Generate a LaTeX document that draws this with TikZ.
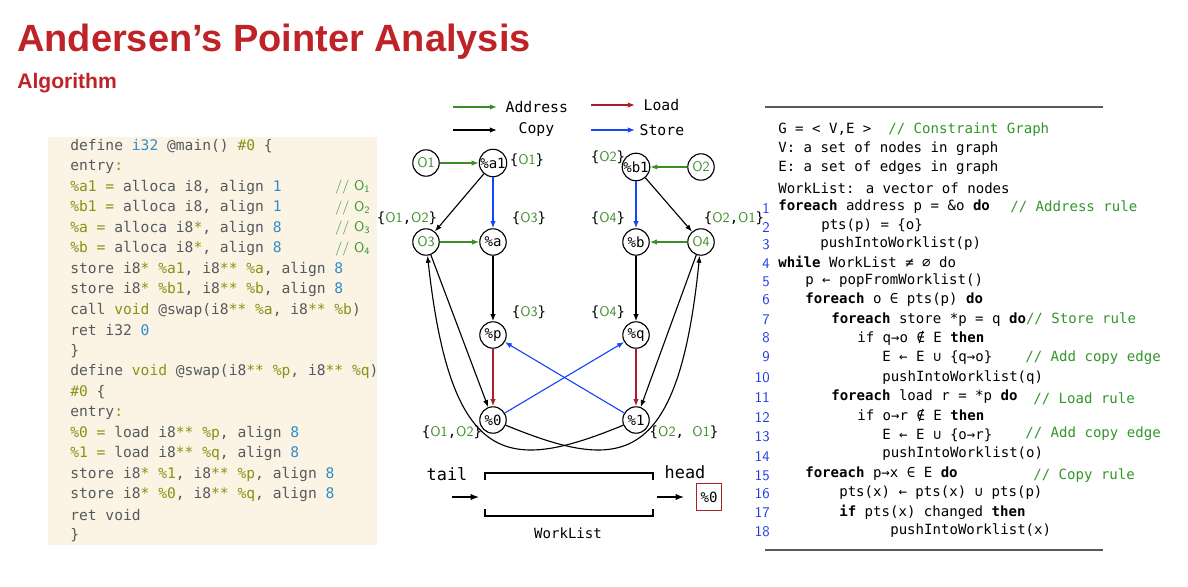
\documentclass[tikz,border=0pt]{standalone}
\usepackage{fontspec}
\setmainfont{Liberation Sans}
\newfontfamily\codefont{DejaVu Sans Mono}
\usetikzlibrary{arrows.meta}
\definecolor{titlered}{RGB}{190,35,40}
\definecolor{addrgreen}{RGB}{60,140,40}
\definecolor{loadred}{RGB}{170,30,40}
\definecolor{storeblue}{RGB}{20,70,250}
\definecolor{codebg}{RGB}{251,243,228}
\definecolor{codegrey}{RGB}{85,90,95}
\definecolor{codeolive}{RGB}{140,145,20}
\definecolor{codeblue}{RGB}{50,140,200}
\definecolor{linenum}{RGB}{30,60,230}
\definecolor{cmtgreen}{RGB}{50,150,40}
\newcommand{\cv}[1]{\textcolor{codeolive}{#1}}
\newcommand{\cn}[1]{\textcolor{codeblue}{#1}}
\newcommand{\oo}[1]{\textcolor{addrgreen}{\sffamily O#1}}
\newcommand{\cmt}[1]{\textcolor{cmtgreen}{#1}}
\tikzset{
  var/.style={circle, draw, thick, minimum size=0.66cm, inner sep=0pt, font=\codefont\fontsize{10}{11}\selectfont},
  pset/.style={inner sep=1pt, font=\codefont\fontsize{10}{11}\selectfont},
  address/.style={draw=addrgreen, thick, -{Latex[length=5pt]}},
  copyedge/.style={draw=black, thick, -{Latex[length=5pt]}},
  load/.style={draw=loadred, thick, -{Latex[length=5pt]}},
  store/.style={draw=storeblue, thick, -{Latex[length=5pt]}},
  code/.style={anchor=west, inner sep=0pt, text=codegrey, font=\codefont\fontsize{10.4}{12}\selectfont},
  algo/.style={anchor=west, inner sep=0pt, font=\codefont\fontsize{10}{12}\selectfont},
  lnum/.style={anchor=east, inner sep=0pt, text=linenum, font=\sffamily\fontsize{10.5}{12}\selectfont}
}
\begin{document}
\begin{tikzpicture}[x=0.025cm, y=-0.025cm]
\useasboundingbox (0,0) rectangle (1188,586);

\node[anchor=west, inner sep=0pt, text=titlered, font=\bfseries\fontsize{27}{30}\selectfont] (title) at (17,42) {Andersen’s Pointer Analysis};
\node[anchor=west, inner sep=0pt, text=titlered, font=\bfseries\fontsize{15}{18}\selectfont] (subtitle) at (17,83) {Algorithm};

\fill[codebg] (48,137) rectangle (377,545);
\node[code] (c1) at (70,146) {define \cn{i32} @main() \cv{\#0} \{};
\node[code] (c2) at (70,166.5) {entry\cv{:}};
\node[code] (c3) at (70,187) {\cv{\%a1 =} alloca i8, align \cn{1}};
\node[code] (c4) at (70,207.5) {\cv{\%b1 =} alloca i8, align \cn{1}};
\node[code] (c5) at (70,228) {\cv{\%a =} alloca i8\cv{*}, align \cn{8}};
\node[code] (c6) at (70,248.5) {\cv{\%b =} alloca i8\cv{*}, align \cn{8}};
\node[code] (c7) at (70,269) {store i8\cv{*} \cv{\%a1}, i8\cv{**} \cv{\%a}, align \cn{8}};
\node[code] (c8) at (70,289.5) {store i8\cv{*} \cv{\%b1}, i8\cv{**} \cv{\%b}, align \cn{8}};
\node[code] (c9) at (70,310) {call \cv{void} @swap(i8\cv{**} \cv{\%a}, i8\cv{**} \cv{\%b})};
\node[code] (c10) at (70,330.5) {ret i32 \cn{0}};
\node[code] (c11) at (70,351) {\}};
\node[code] (c12) at (70,371.5) {define \cv{void} @swap(i8\cv{**} \cv{\%p}, i8\cv{**} \cv{\%q})};
\node[code] (c13) at (70,392) {\cv{\#0} \{};
\node[code] (c14) at (70,412.5) {entry\cv{:}};
\node[code] (c15) at (70,433) {\cv{\%0 =} load i8\cv{**} \cv{\%p}, align \cn{8}};
\node[code] (c16) at (70,453.5) {\cv{\%1 =} load i8\cv{**} \cv{\%q}, align \cn{8}};
\node[code] (c17) at (70,474) {store i8\cv{*} \cv{\%1}, i8\cv{**} \cv{\%p}, align \cn{8}};
\node[code] (c18) at (70,494.5) {store i8\cv{*} \cv{\%0}, i8\cv{**} \cv{\%q}, align \cn{8}};
\node[code] (c19) at (70,515) {ret void};
\node[code] (c20) at (70,535.5) {\}};
\node[code, text=cmtgreen, font=\sffamily\fontsize{10}{12}\selectfont] (m1) at (335,187) {// O\textsubscript{1}};
\node[code, text=cmtgreen, font=\sffamily\fontsize{10}{12}\selectfont] (m2) at (335,207.5) {// O\textsubscript{2}};
\node[code, text=cmtgreen, font=\sffamily\fontsize{10}{12}\selectfont] (m3) at (335,228) {// O\textsubscript{3}};
\node[code, text=cmtgreen, font=\sffamily\fontsize{10}{12}\selectfont] (m4) at (335,248.5) {// O\textsubscript{4}};

\coordinate (la1) at (453,107);
\coordinate (la2) at (497,107);
\coordinate (lc1) at (453,130);
\coordinate (lc2) at (497,130);
\coordinate (ll1) at (591,105);
\coordinate (ll2) at (635,105);
\coordinate (ls1) at (591,130);
\coordinate (ls2) at (635,130);
\draw[address] (la1) -- (la2);
\draw[copyedge] (lc1) -- (lc2);
\draw[load] (ll1) -- (ll2);
\draw[store] (ls1) -- (ls2);
\node[pset, anchor=west, font=\codefont\fontsize{10.5}{12}\selectfont] (laddr) at (504,107) {Address};
\node[pset, anchor=west, font=\codefont\fontsize{10.5}{12}\selectfont] (lcopy) at (517,130) {Copy};
\node[pset, anchor=west, font=\codefont\fontsize{10.5}{12}\selectfont] (lload) at (642,105) {Load};
\node[pset, anchor=west, font=\codefont\fontsize{10.5}{12}\selectfont] (lstore) at (638,130) {Store};

\node[var] (o1) at (426,163) {\oo{1}};
\node[var] (a1) at (493,163) {\%a1};
\node[var] (b1) at (636,167) {\%b1};
\node[var] (o2) at (701,167) {\oo{2}};
\node[var] (o3) at (426,242) {\oo{3}};
\node[var] (a) at (493,242) {\%a};
\node[var] (b) at (636,242) {\%b};
\node[var] (o4) at (701,242) {\oo{4}};
\node[var] (p) at (493,335) {\%p};
\node[var] (q) at (636,335) {\%q};
\node[var] (v0) at (493,420) {\%0};
\node[var] (v1) at (636,420) {\%1};

\node[pset] (sa1) at (527,160) {\{\oo{1}\}};
\node[pset] (sb1) at (608,157) {\{\oo{2}\}};
\node[pset] (so3) at (407,218) {\{\oo{1},\oo{2}\}};
\node[pset] (sa) at (529,218) {\{\oo{3}\}};
\node[pset] (sb) at (608,218) {\{\oo{4}\}};
\node[pset] (so4) at (734,218) {\{\oo{2},\oo{1}\}};
\node[pset] (sp) at (529,312) {\{\oo{3}\}};
\node[pset] (sq) at (608,312) {\{\oo{4}\}};
\node[pset] (sv0) at (452,432) {\{\oo{1},\oo{2}\}};
\node[pset] (sv1) at (684,432) {\{\oo{2}, \oo{1}\}};

\draw[address] (o1) -- (a1);
\draw[address] (o2) -- (b1);
\draw[address] (o3) -- (a);
\draw[address] (o4) -- (b);
\draw[copyedge] (a1) -- (o3);
\draw[copyedge] (b1) -- (o4);
\draw[store] (a1) -- (a);
\draw[store] (b1) -- (b);
\draw[copyedge] (a) -- (p);
\draw[copyedge] (b) -- (q);
\draw[load] (p) -- (v0);
\draw[load] (q) -- (v1);
\draw[store] (v0) -- (q);
\draw[store] (v1) -- (p);
\draw[copyedge] (o3) -- (v0);
\draw[copyedge] (o4) -- (v1);
\draw[copyedge] (v0) .. controls (620,472) and (678,470) .. (o4);
\draw[copyedge] (v1) .. controls (509,472) and (451,470) .. (o3);

\draw[thick] (485,480) -- (485,473) -- (653,473) -- (653,480);
\draw[thick] (485,509) -- (485,516) -- (653,516) -- (653,509);
\node[pset, anchor=west, font=\codefont\fontsize{12}{14}\selectfont] (tail) at (425,474) {tail};
\node[pset, anchor=west, font=\codefont\fontsize{12}{14}\selectfont] (head) at (663,472) {head};
\node[pset] (wl) at (568,533) {WorkList};
\coordinate (t1) at (452,497);
\coordinate (t2) at (479,497);
\coordinate (h1) at (657,497);
\coordinate (h2) at (684,497);
\draw[thick, -{Latex[length=6pt]}] (t1) -- (t2);
\draw[thick, -{Latex[length=6pt]}] (h1) -- (h2);
\node[draw=loadred, thick, minimum width=0.64cm, minimum height=0.66cm, pset] (top) at (709,497) {\%0};

\draw[thick, codegrey] (765,107) -- (1103,107);
\draw[thick, codegrey] (765,550) -- (1103,550);
\node[algo] (g0) at (778,130) {G = < V,E >\ \ \cmt{// Constraint Graph}};
\node[algo] (g1) at (778,149) {V: a set of nodes in graph};
\node[algo] (g2) at (778,168) {E: a set of edges in graph};
\node[algo] (g3) at (778,188) {WorkList: a vector of nodes};
\node[lnum] (n1) at (770,208) {1};
\node[lnum] (n2) at (770,227) {2};
\node[lnum] (n3) at (770,245) {3};
\node[lnum] (n4) at (770,264) {4};
\node[lnum] (n5) at (770,282) {5};
\node[lnum] (n6) at (770,300) {6};
\node[lnum] (n7) at (770,320) {7};
\node[lnum] (n8) at (770,338) {8};
\node[lnum] (n9) at (770,357) {9};
\node[lnum] (n10) at (770,378) {10};
\node[lnum] (n11) at (770,397) {11};
\node[lnum] (n12) at (770,417) {12};
\node[lnum] (n13) at (770,437) {13};
\node[lnum] (n14) at (770,456) {14};
\node[lnum] (n15) at (770,476) {15};
\node[lnum] (n16) at (770,494) {16};
\node[lnum] (n17) at (770,513) {17};
\node[lnum] (n18) at (770,532) {18};
\node[algo] (s1) at (778,207) {\textbf{foreach} address p = \&o \textbf{do}};
\node[algo] (k1) at (1010,207) {\cmt{// Address rule}};
\node[algo] (s2) at (821,226) {pts(p) = \{o\}};
\node[algo] (s3) at (820,244) {pushIntoWorklist(p)};
\node[algo] (s4) at (778,262) {\textbf{while} WorkList ≠ ∅ do};
\node[algo] (s5) at (805,281) {p ← popFromWorklist()};
\node[algo] (s6) at (805,300) {\textbf{foreach} o ∈ pts(p) \textbf{do}};
\node[algo] (s7) at (831,320) {\textbf{foreach} store *p = q \textbf{do}\cmt{// Store rule}};
\node[algo] (s8) at (857,338) {if q→o ∉ E \textbf{then}};
\node[algo] (s9) at (882,358) {E ← E ∪ \{q→o\}};
\node[algo] (k9) at (1025,358) {\cmt{// Add copy edge}};
\node[algo] (s10) at (882,378) {pushIntoWorklist(q)};
\node[algo] (s11) at (831,397) {\textbf{foreach} load r = *p \textbf{do}};
\node[algo] (k11) at (1033,399) {\cmt{// Load rule}};
\node[algo] (s12) at (857,415) {if o→r ∉ E \textbf{then}};
\node[algo] (s13) at (882,435) {E ← E ∪ \{o→r\}};
\node[algo] (k13) at (1025,434) {\cmt{// Add copy edge}};
\node[algo] (s14) at (882,454) {pushIntoWorklist(o)};
\node[algo] (s15) at (805,474) {\textbf{foreach} p→x ∈ E \textbf{do}};
\node[algo] (k15) at (1033,476) {\cmt{// Copy rule}};
\node[algo] (s16) at (839,493) {pts(x) ← pts(x) ∪ pts(p)};
\node[algo] (s17) at (839,512) {\textbf{if} pts(x) changed \textbf{then}};
\node[algo] (s18) at (890,531) {pushIntoWorklist(x)};
\end{tikzpicture}
\end{document}
